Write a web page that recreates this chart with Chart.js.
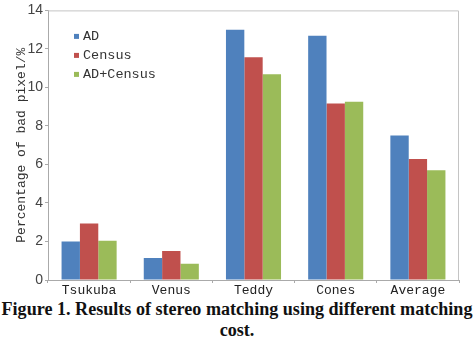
<!DOCTYPE html>
<html>
<head>
<meta charset="utf-8">
<script src="https://cdn.jsdelivr.net/npm/chart.js@4/dist/chart.umd.min.js"></script>
<style>
  html, body { margin: 0; padding: 0; background: #fff; }
  #wrap { width: 474px; height: 339px; position: relative; overflow: hidden; }
  #caption {
    position: absolute; left: 0; top: 299px; width: 474px;
    text-align: center; white-space: nowrap;
    font: bold 18.1px 'Liberation Serif', 'DejaVu Serif', serif;
    line-height: 21px; color: #111;
  }
</style>
</head>
<body>
<div id="wrap">
  <canvas id="costChart" width="474" height="298"></canvas>
  <div id="caption">Figure 1. Results of stereo matching using different matching<br>cost.</div>
</div>
<script>
// bad pixel percentage per test image
const scenes = ["Tsukuba", "Venus", "Teddy", "Cones", "Average"];
const adErr = [2.0, 1.14, 13.0, 12.68, 7.5];
const censusErr = [2.94, 1.51, 11.57, 9.16, 6.28];
const adCensusErr = [2.04, 0.85, 10.69, 9.25, 5.7];
const yTicks = [0, 2, 4, 6, 8, 10, 12, 14];

const monoFont = "'Liberation Mono', 'DejaVu Sans Mono', monospace";

// grey frame around the plot + legend inside the top-left corner
const frameAndLegend = {
	id: "frameAndLegend",
	afterDatasetsDraw(chart) {
		const { ctx, chartArea } = chart;
		ctx.save();
		ctx.strokeStyle = "#c4c4c4";
		ctx.lineWidth = 1;
		ctx.beginPath();
		ctx.moveTo(chartArea.left, chartArea.top + 0.5);
		ctx.lineTo(chartArea.right - 0.5, chartArea.top + 0.5);
		ctx.lineTo(chartArea.right - 0.5, chartArea.bottom);
		ctx.stroke();

		ctx.font = "13.5px " + monoFont;
		ctx.textBaseline = "middle";
		chart.data.datasets.forEach((ds, i) => {
			const y = chartArea.top + 26 + i * 19;
			ctx.fillStyle = ds.backgroundColor;
			ctx.fillRect(chartArea.left + 26, y - 2.5, 5, 5);
			ctx.fillStyle = "#333";
			ctx.fillText(ds.label, chartArea.left + 35, y);
		});
		ctx.restore();
	},
};

new Chart(document.getElementById("costChart"), {
	type: "bar",
	data: {
		labels: scenes,
		datasets: [
			{ label: "AD", data: adErr, backgroundColor: "#4f81bd" },
			{ label: "Census", data: censusErr, backgroundColor: "#c0504d" },
			{ label: "AD+Census", data: adCensusErr, backgroundColor: "#9bbb59" },
		],
	},
	options: {
		responsive: false,
		animation: false,
		layout: { padding: { top: 5, right: 15, left: 0, bottom: 0 } },
		datasets: {
			bar: { categoryPercentage: 0.67, barPercentage: 1.0 },
		},
		plugins: {
			legend: { display: false },
			tooltip: { enabled: false },
		},
		scales: {
			x: {
				grid: { drawOnChartArea: false, drawTicks: true, tickLength: 3, color: "#aaa" },
				border: { color: "#aaa" },
				ticks: { color: "#222", font: { family: monoFont, size: 13 }, padding: 0 },
				afterFit(scale) { scale.height = 18; },
			},
			y: {
				min: 0,
				max: 14,
				afterBuildTicks(scale) { scale.ticks = yTicks.map(v => ({ value: v })); },
				grid: { drawOnChartArea: false, drawTicks: true, tickLength: 3, color: "#aaa" },
				border: { color: "#aaa" },
				ticks: { color: "#444", font: { family: "'Liberation Sans', sans-serif", size: 14 }, padding: 2 },
				title: {
					display: true,
					text: "Percentage of bad pixel/%",
					color: "#333",
					font: { family: monoFont, size: 13 },
					padding: { top: 14, bottom: 0 },
				},
				afterFit(scale) { scale.width = 48; },
			},
		},
	},
	plugins: [frameAndLegend],
});
</script>
</body>
</html>
